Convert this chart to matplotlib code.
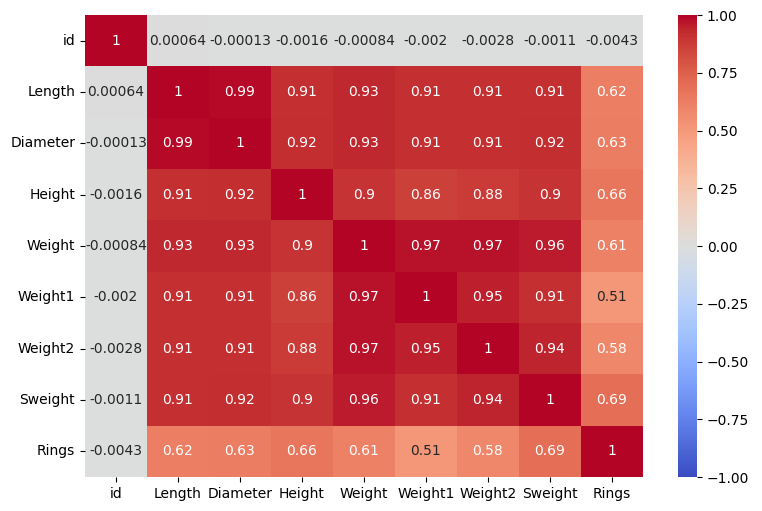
import matplotlib
matplotlib.use("Agg")
import matplotlib.pyplot as plt
import seaborn as sns
import numpy as np
import pandas as pd

labels = ["id", "Length", "Diameter", "Height", "Weight", "Weight1", "Weight2", "Sweight", "Rings"]
row_id = [1, 0.00064, -0.00013, -0.0016, -0.00084, -0.002, -0.0028, -0.0011, -0.0043]
row_length = [0.00064, 1, 0.99, 0.91, 0.93, 0.91, 0.91, 0.91, 0.62]
row_diameter = [-0.00013, 0.99, 1, 0.92, 0.93, 0.91, 0.91, 0.92, 0.63]
row_height = [-0.0016, 0.91, 0.92, 1, 0.9, 0.86, 0.88, 0.9, 0.66]
row_weight = [-0.00084, 0.93, 0.93, 0.9, 1, 0.97, 0.97, 0.96, 0.61]
row_weight1 = [-0.002, 0.91, 0.91, 0.86, 0.97, 1, 0.95, 0.91, 0.51]
row_weight2 = [-0.0028, 0.91, 0.91, 0.88, 0.97, 0.95, 1, 0.94, 0.58]
row_sweight = [-0.0011, 0.91, 0.92, 0.9, 0.96, 0.91, 0.94, 1, 0.69]
row_rings = [-0.0043, 0.62, 0.63, 0.66, 0.61, 0.51, 0.58, 0.69, 1]

corr = pd.DataFrame([row_id, row_length, row_diameter, row_height, row_weight,
                     row_weight1, row_weight2, row_sweight, row_rings],
                    index=labels, columns=labels)

fig = plt.figure(figsize=(7.62, 5.11), dpi=100)
ax = fig.add_axes([0.1115, 0.0665, 0.7323, 0.9041])
cax = fig.add_axes([0.8898, 0.0665, 0.025, 0.9041])
sns.heatmap(corr, annot=True, cmap="coolwarm", vmin=-1, vmax=1, ax=ax, cbar_ax=cax)
ax.tick_params(labelsize=10)
ax.set_yticklabels(labels, rotation=0)
ax.set_xticklabels(labels, rotation=0)
fig.savefig("out.png", dpi=100)
